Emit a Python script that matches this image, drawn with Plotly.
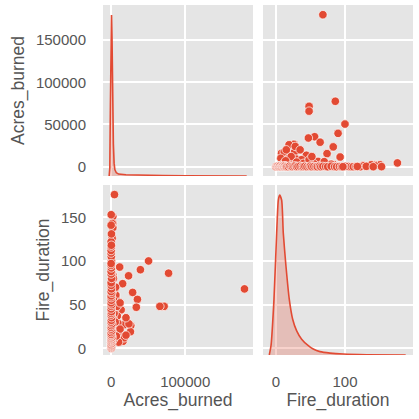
import plotly.graph_objects as go

# ---------------- data ----------------
acres_burned = [
    180000, 77500, 71500, 65800, 50500, 39500, 35500, 34000, 29000, 23500,
    26500, 26000, 17500, 15500, 11500, 13500, 16000, 17500, 10000, 9500,
    9000, 8300, 6500, 6300, 4500, 2400, 2250, 1350, 2250, 1350, 2250,
    3000, 4000, 2500, 5000, 3500, 2000,
    24000, 20000, 12000, 7000, 5500, 4000, 8000, 6000, 3000, 12000, 20000,
    0, 300, 100, 600, 0, 200, 900, 0, 400, 100, 700, 0, 300, 1200, 0,
    500, 100, 0, 800, 200, 0, 400, 1000, 0, 300, 600, 0, 100, 500, 0,
    200, 900, 0, 300, 100, 0, 700, 0, 400, 200, 0, 600, 100, 0, 300,
    0, 500, 200, 0, 0, 200, 0, 400, 0, 100, 0, 300,
]
fire_duration = [
    68, 86, 48, 48, 100, 90, 56, 47, 64, 83,
    26, 19, 27, 74, 93, 44, 8, 12, 7, 18,
    29, 37, 57, 61, 176, 143, 151, 143, 138, 126, 84,
    10, 20, 35, 45, 55, 66,
    28, 15, 22, 14, 30, 40, 48, 70, 80, 52, 35,
    0, 1, 2, 3, 4, 5, 6, 7, 8, 9, 10, 11, 12, 13, 14,
    15, 16, 18, 20, 22, 24, 26, 28, 30, 32, 35, 38, 40, 42, 45,
    48, 50, 52, 55, 58, 60, 63, 65, 68, 72, 75, 80, 85, 88, 92,
    95, 100, 105, 109, 112, 116, 122, 131, 141, 153, 97, 118,
]

# KDE curves (relative density, peak = 1)
acres_kde_x = [-2700, -1800, -1000, 0, 500, 1200, 2000, 3000, 4000, 5000,
               7000, 10000, 20000, 40000, 70000, 100000, 140000, 183000]
acres_kde_y = [0.0, 0.05, 0.45, 0.9, 1.0, 0.85, 0.5, 0.2, 0.08, 0.04,
               0.02, 0.012, 0.008, 0.005, 0.003, 0.002, 0.001, 0.0]

fire_kde_x = [-9.7, -7.2, -2.9, 1.0, 3.4, 5.3, 8.2, 10.6, 14.5, 19.3,
              24.2, 30.0, 37.2, 46.9, 54.0, 63.8, 78.3, 97.6, 131.0, 188.0]
fire_kde_y = [0.0, 0.058, 0.348, 0.762, 0.969, 1.0, 0.969, 0.762, 0.555, 0.348,
              0.224, 0.151, 0.099, 0.058, 0.037, 0.021, 0.012, 0.006, 0.002, 0.0]

acres_ticks = [0, 50000, 100000, 150000]
acres_xticks = [0, 100000]
fire_ticks = [0, 50, 100, 150]
fire_xticks = [0, 100]

# ---------------- style ----------------
RED = "#E24A33"
FILL = "rgba(226,74,51,0.25)"
PANEL = "#E5E5E5"
TXT = "#555555"
FONT = "Liberation Sans, Arial, sans-serif"
W = H = 419

acres_range = [-11000, 191500]
fire_xrange = [-18.8, 198.6]
fire_yrange = [-7.7, 187.0]
kde_range = [0, 1.063]


def px_x(a, b):
    return [a / W, b / W]


def px_y(top, bottom):
    return [1 - bottom / H, 1 - top / H]


def to_kde_scale(vals, rng):
    # position of the row variable's ticks on the diagonal (density) axis
    return [(v - rng[0]) / (rng[1] - rng[0]) * (kde_range[1] - kde_range[0]) + kde_range[0]
            for v in vals]


col1 = px_x(103, 253)
col2 = px_x(263, 413)
row1 = px_y(5, 176)
row2 = px_y(185, 355)

fig = go.Figure()

marker = dict(size=8.5, color=RED, line=dict(color="white", width=0.7))

# diagonal KDEs
fig.add_trace(go.Scatter(x=acres_kde_x, y=acres_kde_y, mode="lines",
                         line=dict(color=RED, width=1.6), fill="tozeroy",
                         fillcolor=FILL, xaxis="x", yaxis="y", showlegend=False))
fig.add_trace(go.Scatter(x=fire_kde_x, y=fire_kde_y, mode="lines",
                         line=dict(color=RED, width=1.6, shape="spline", smoothing=0.6),
                         fill="tozeroy", fillcolor=FILL,
                         xaxis="x4", yaxis="y4", showlegend=False))
# top-right: x = Fire_duration, y = Acres_burned
fig.add_trace(go.Scatter(x=fire_duration, y=acres_burned, mode="markers",
                         marker=marker, xaxis="x2", yaxis="y2", showlegend=False))
# bottom-left: x = Acres_burned, y = Fire_duration
fig.add_trace(go.Scatter(x=acres_burned, y=fire_duration, mode="markers",
                         marker=marker, xaxis="x3", yaxis="y3", showlegend=False))

common = dict(showgrid=True, gridcolor="white", gridwidth=1.5, zeroline=False,
              showline=False, ticks="", automargin=False, tickformat="d",
              tickfont=dict(family=FONT, size=15, color=TXT),
              ticklabelstandoff=16)
title_font = dict(family=FONT, size=17.5, color=TXT)

fig.update_layout(
    width=W, height=H,
    margin=dict(l=0, r=0, t=0, b=0),
    paper_bgcolor="white", plot_bgcolor=PANEL,
    xaxis=dict(domain=col1, anchor="y", range=acres_range, tickvals=acres_xticks,
               showticklabels=False, **common),
    yaxis=dict(domain=row1, anchor="x", range=kde_range,
               tickvals=to_kde_scale(acres_ticks, acres_range),
               ticktext=[str(v) for v in acres_ticks],
               title=dict(text="Acres_burned", font=title_font, standoff=6), **common),
    xaxis2=dict(domain=col2, anchor="y2", range=fire_xrange, tickvals=fire_xticks,
                showticklabels=False, **common),
    yaxis2=dict(domain=row1, anchor="x2", range=acres_range, tickvals=acres_ticks,
                showticklabels=False, **common),
    xaxis3=dict(domain=col1, anchor="y3", range=acres_range, tickvals=acres_xticks,
                title=dict(text="Acres_burned", font=title_font, standoff=3), **common),
    yaxis3=dict(domain=row2, anchor="x3", range=fire_yrange, tickvals=fire_ticks,
                title=dict(text="Fire_duration", font=title_font, standoff=6), **common),
    xaxis4=dict(domain=col2, anchor="y4", range=fire_xrange, tickvals=fire_xticks,
                title=dict(text="Fire_duration", font=title_font, standoff=3), **common),
    yaxis4=dict(domain=row2, anchor="x4", range=kde_range,
                tickvals=to_kde_scale(fire_ticks, fire_yrange),
                showticklabels=False, **common),
)

fig.write_html("out.html")
